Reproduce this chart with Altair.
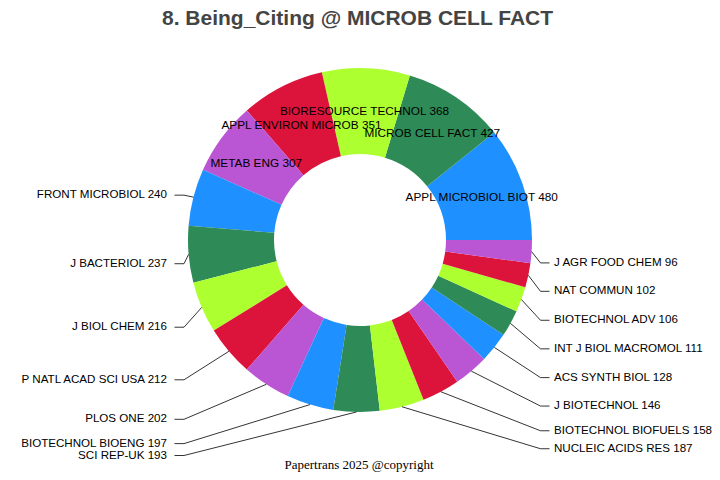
import math
import pandas as pd
import altair as alt

TITLE = "8. Being_Citing @ MICROB CELL FACT"
FOOTER = "Papertrans 2025 @copyright"

journals = ["APPL MICROBIOL BIOT", "MICROB CELL FACT", "BIORESOURCE TECHNOL",
            "APPL ENVIRON MICROB", "METAB ENG", "FRONT MICROBIOL", "J BACTERIOL",
            "J BIOL CHEM", "P NATL ACAD SCI USA", "PLOS ONE", "BIOTECHNOL BIOENG",
            "SCI REP-UK", "NUCLEIC ACIDS RES", "BIOTECHNOL BIOFUELS", "J BIOTECHNOL",
            "ACS SYNTH BIOL", "INT J BIOL MACROMOL", "BIOTECHNOL ADV", "NAT COMMUN",
            "J AGR FOOD CHEM"]
counts = [480, 427, 368, 351, 307, 240, 237, 216, 212, 202, 197, 193, 187, 158,
          146, 128, 111, 106, 102, 96]
palette = ["#1E90FF", "#2E8B57", "#ADFF2F", "#DC143C", "#BA55D3"]

# ---- layout constants (pixels, chart coordinates) ----
W, H = 704, 464
CX, CY = 352, 232
R_OUT, R_IN = 172, 86
R_MID = (R_OUT + R_IN) / 2
INSIDE_MIN = 300
LABEL_K = 206
OFF_R, OFF_L = 9, 6.5
GAP = 11.9
R_ELBOW, R_END, R_TEXT = 532.5, 541.5, 546
L_ELBOW, L_END, L_TEXT = 176, 166.5, 159
FONT = "Liberation Sans, Arial, sans-serif"
IN_SIZE = 11.8
OUT_SIZE = 11.6

colors = [palette[i % len(palette)] for i in range(len(journals))]
df = pd.DataFrame({"name": journals, "value": counts, "color": colors})
df["label"] = df["name"] + " " + df["value"].astype(str)

# geometry of labels (ascending clockwise from 3 o'clock)
asc = df.sort_values("value").reset_index(drop=True)
total = asc["value"].sum()
asc["start"] = asc["value"].cumsum() - asc["value"]
asc["phi"] = (asc["start"] + asc["value"] / 2) / total * 2 * math.pi

inside_rows, line_rows, out_rows = [], [], []
sides = {"R": [], "L": []}
for _, r in asc.iterrows():
    phi = r["phi"]
    if r["value"] > INSIDE_MIN:
        inside_rows.append({"label": r["label"],
                            "px": CX + R_MID * math.cos(phi),
                            "py": CY + R_MID * math.sin(phi)})
    else:
        side = "R" if math.cos(phi) > 0 else "L"
        off = OFF_R if side == "R" else OFF_L
        sides[side].append({"name": r["name"], "label": r["label"], "phi": phi,
                            "ly": CY + off + LABEL_K * math.sin(phi)})

for side, items in sides.items():
    items.sort(key=lambda d: d["ly"])
    prev = -1e9
    for it in items:
        if it["ly"] < prev + GAP:
            it["ly"] = prev + GAP
        prev = it["ly"]
        sx = CX + R_OUT * math.cos(it["phi"])
        sy = CY + R_OUT * math.sin(it["phi"])
        elbow, end, tx = (R_ELBOW, R_END, R_TEXT) if side == "R" else (L_ELBOW, L_END, L_TEXT)
        line_rows += [{"name": it["name"], "k": 0, "px": sx, "py": sy},
                      {"name": it["name"], "k": 1, "px": elbow, "py": it["ly"]},
                      {"name": it["name"], "k": 2, "px": end, "py": it["ly"]}]
        out_rows.append({"label": it["label"], "px": tx, "py": it["ly"], "side": side})

inside_df = pd.DataFrame(inside_rows)
line_df = pd.DataFrame(line_rows)
out_df = pd.DataFrame(out_rows)

xs = alt.Scale(domain=[0, W], range=[0, W], zero=False, nice=False)
ys = alt.Scale(domain=[0, H], range=[0, H], zero=False, nice=False)

arcs = alt.Chart(df).mark_arc(innerRadius=R_IN, outerRadius=R_OUT, stroke=None).encode(
    theta=alt.Theta("value:Q", stack=True,
                    scale=alt.Scale(range=[math.pi / 2, math.pi / 2 + 2 * math.pi])),
    order=alt.Order("value:Q", sort="ascending"),
    color=alt.Color("name:N", scale=alt.Scale(domain=journals, range=colors), legend=None),
    x=alt.value(CX), y=alt.value(CY),
)

inside = alt.Chart(inside_df).mark_text(font=FONT, fontSize=IN_SIZE, color="black",
                                        align="center", baseline="middle").encode(
    x=alt.X("px:Q", scale=xs, axis=None), y=alt.Y("py:Q", scale=ys, axis=None),
    text="label:N")

lines = alt.Chart(line_df).mark_line(color="black", strokeWidth=0.8).encode(
    x=alt.X("px:Q", scale=xs, axis=None), y=alt.Y("py:Q", scale=ys, axis=None),
    detail="name:N", order="k:Q")

right_txt = alt.Chart(out_df[out_df.side == "R"]).mark_text(
    font=FONT, fontSize=OUT_SIZE, color="black", align="left", baseline="middle").encode(
    x=alt.X("px:Q", scale=xs, axis=None), y=alt.Y("py:Q", scale=ys, axis=None),
    text="label:N")
left_txt = alt.Chart(out_df[out_df.side == "L"]).mark_text(
    font=FONT, fontSize=OUT_SIZE, color="black", align="right", baseline="middle").encode(
    x=alt.X("px:Q", scale=xs, axis=None), y=alt.Y("py:Q", scale=ys, axis=None),
    text="label:N")

title = alt.Chart(pd.DataFrame({"t": [TITLE]})).mark_text(
    font=FONT, fontSize=21, fontWeight="bold", color="#444444",
    align="center", baseline="alphabetic").encode(
    x=alt.value(349.5), y=alt.value(17.3), text="t:N")
footer = alt.Chart(pd.DataFrame({"t": [FOOTER]})).mark_text(
    font="Liberation Serif, Times New Roman, serif", fontSize=13, color="black",
    align="center", baseline="alphabetic").encode(
    x=alt.value(351), y=alt.value(461.3), text="t:N")

chart = alt.layer(arcs, lines, inside, right_txt, left_txt, title, footer).properties(
    width=W, height=H, padding=0, autosize=alt.AutoSizeParams(type="none"),
    background="white"
).configure_view(stroke=None)

chart.save("out.html", embed_options={"renderer": "svg", "actions": False})
